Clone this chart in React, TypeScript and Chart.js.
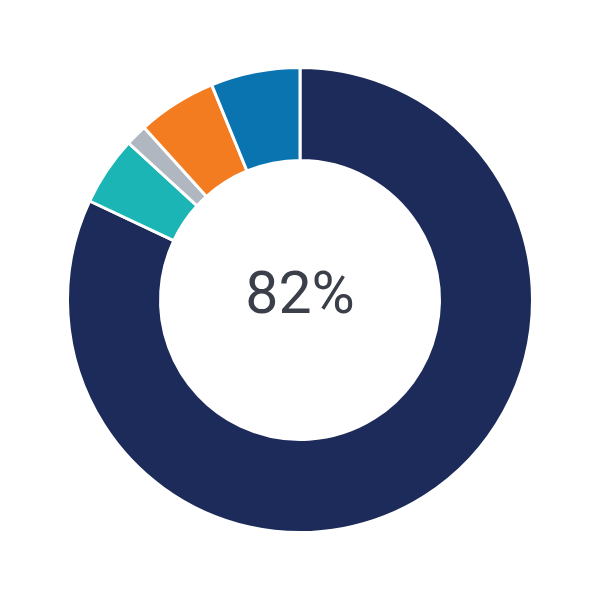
import React, { useEffect, useRef } from "react";
import { Chart, registerables } from "chart.js";

Chart.register(...registerables);

const categories = ["A", "B", "C", "D", "E"];
const values = [82, 4.8, 1.5, 5.5, 6.2];
const colors = ["#1c2b5a", "#1bb5b5", "#b0b7c0", "#f47c20", "#0a74b0"];
const centerLabel = "82%";

export default function App() {
  const ref = useRef<HTMLCanvasElement | null>(null);
  useEffect(() => {
    if (!ref.current) return;
    const centerText = {
      id: "centerText",
      afterDraw(chart: any) {
        const { ctx, chartArea } = chart;
        const cx = (chartArea.left + chartArea.right) / 2;
        const cy = (chartArea.top + chartArea.bottom) / 2;
        ctx.save();
        ctx.fillStyle = "#3a3f4a";
        ctx.font = "59px Roboto, 'Liberation Sans', sans-serif";
        ctx.textAlign = "center";
        ctx.textBaseline = "middle";
        ctx.fillText(centerLabel, cx, cy - 2);
        ctx.restore();
      },
    };
    const chart = new Chart(ref.current, {
      type: "doughnut",
      data: {
        labels: categories,
        datasets: [
          {
            data: values,
            backgroundColor: colors,
            borderColor: "#ffffff",
            borderWidth: 3,
          },
        ],
      },
      options: {
        responsive: false,
        animation: false,
        cutout: "60%",
        layout: { padding: 66 },
        plugins: { legend: { display: false }, tooltip: { enabled: false } },
      },
      plugins: [centerText],
    });
    return () => chart.destroy();
  }, []);
  return (
    <div style={{ position: "fixed", left: 0, top: 0, width: 600, height: 600, background: "#fff" }}>
      <canvas ref={ref} width={600} height={600} style={{ width: 600, height: 600 }} />
    </div>
  );
}
